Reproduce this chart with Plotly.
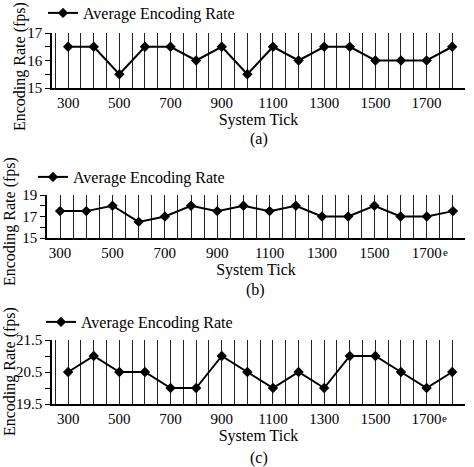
import plotly.graph_objects as go

ticks = [300, 400, 500, 600, 700, 800, 900, 1000, 1100, 1200, 1300, 1400, 1500, 1600, 1700, 1800]
rate_a = [16.5, 16.5, 15.5, 16.5, 16.5, 16, 16.5, 15.5, 16.5, 16, 16.5, 16.5, 16, 16, 16, 16.5]
rate_b = [17.5, 17.5, 18, 16.5, 17, 18, 17.5, 18, 17.5, 18, 17, 17, 18, 17, 17, 17.5]
rate_c = [20.5, 21, 20.5, 20.5, 20, 20, 21, 20.5, 20, 20.5, 20, 21, 21, 20.5, 20, 20.5]
x_labels = [300, 500, 700, 900, 1100, 1300, 1500, 1700]
series_name = "Average Encoding Rate"

W, H = 474, 467
FONT = "Liberation Serif, Times New Roman, serif"

def px(x):
    return x / W

def py(y):
    return 1 - y / H

# panel geometry in pixels: left, right, top, bottom, x range, y range, y ticks
panels = [
    dict(data=rate_a, l=52, r=465, t=33, b=88, xr=[237, 1850], yr=[15, 17], tick0=15, dtick=1,
         ytitle=(20, 67), leg=(43, 13), label="(a)", lab_y=139, e=False),
    dict(data=rate_b, l=47, r=465, t=195, b=238, xr=[250, 1846], yr=[15, 19], tick0=15, dtick=2,
         ytitle=(10, 222), leg=(33, 177), label="(b)", lab_y=290, e=True),
    dict(data=rate_c, l=52, r=465, t=340, b=404, xr=[237, 1850], yr=[19.5, 21.5], tick0=19.5, dtick=1,
         ytitle=(10, 372), leg=(41, 322), label="(c)", lab_y=458, e=True),
]

fig = go.Figure()
annotations = []
for i, p in enumerate(panels):
    n = "" if i == 0 else str(i + 1)
    leg = "legend" if i == 0 else "legend" + str(i + 1)
    fig.add_trace(go.Scatter(
        x=ticks, y=p["data"], name=series_name, mode="lines+markers",
        line=dict(color="black", width=2),
        marker=dict(symbol="diamond", size=8, color="black"),
        xaxis="x" + n, yaxis="y" + n, legend=leg,
    ))
    fig.layout["xaxis" + n] = dict(
        domain=[px(p["l"]), px(p["r"])], range=p["xr"], anchor="y" + n,
        tickmode="array", tickvals=x_labels, ticks="",
        showgrid=True, gridcolor="#222", gridwidth=1,
        minor=dict(tick0=0, dtick=50, showgrid=True, gridcolor="#222", gridwidth=1, ticks=""),
        showline=True, linecolor="black", linewidth=1.5,
        zeroline=False, tickfont=dict(size=15, family=FONT, color="black"),
        title=dict(text="System Tick", font=dict(size=16, family=FONT, color="black"), standoff=0),
    )
    fig.layout["yaxis" + n] = dict(
        domain=[py(p["b"]), py(p["t"])], range=p["yr"], anchor="x" + n,
        tick0=p["tick0"], dtick=p["dtick"], ticks="outside", ticklen=5, tickcolor="black",
        minor=dict(dtick=p["dtick"] / 2, ticks="outside", ticklen=5, tickcolor="black", showgrid=False),
        showgrid=False, zeroline=False, showline=True, linecolor="black", linewidth=1.5,
        tickfont=dict(size=15, family=FONT, color="black"),
    )
    fig.layout[leg] = dict(
        x=px(p["leg"][0]), y=py(p["leg"][1]), xanchor="left", yanchor="middle",
        bgcolor="rgba(0,0,0,0)", borderwidth=0,
        font=dict(size=16, family=FONT, color="black"),
    )
    annotations.append(dict(
        text="Encoding Rate (fps)", textangle=-90, xref="paper", yref="paper",
        x=px(p["ytitle"][0]), y=py(p["ytitle"][1]), xanchor="center", yanchor="middle",
        showarrow=False, font=dict(size=16, family=FONT, color="black"),
    ))
    annotations.append(dict(
        text=p["label"], xref="paper", yref="paper",
        x=px((p["l"] + p["r"]) / 2), y=py(p["lab_y"]), yanchor="middle", showarrow=False,
        font=dict(size=16, family=FONT, color="black"),
    ))
    if p["e"]:
        annotations.append(dict(
            text="e", xref="x" + n, yref="paper", x=1770, y=py(p["b"] + 14), yanchor="middle",
            showarrow=False, font=dict(size=11, family=FONT, color="black"),
        ))

fig.update_layout(
    width=W, height=H, margin=dict(l=0, r=0, t=0, b=0, autoexpand=False),
    paper_bgcolor="white", plot_bgcolor="white",
    showlegend=True, annotations=annotations,
)

# drop the page's default body margin so the figure sits at the window corner
fig.write_html("out.html", config={"displayModeBar": False},
               post_script="document.body.style.margin='0';")
